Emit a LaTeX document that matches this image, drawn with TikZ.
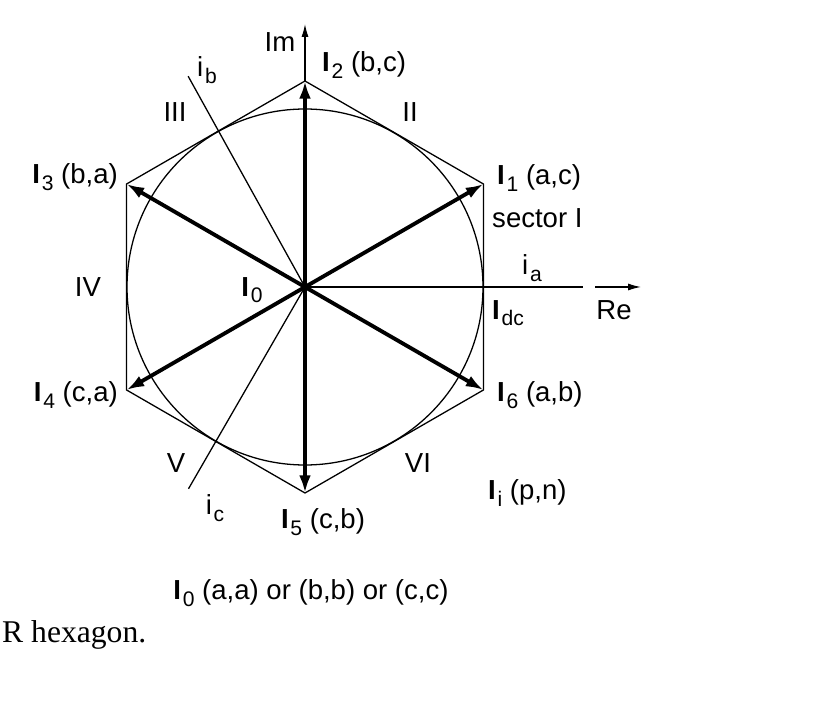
\documentclass[tikz,border=0pt]{standalone}
\usepackage{fontspec}
\setmainfont{Liberation Sans}
\newfontfamily\capfont{Liberation Serif}
\usetikzlibrary{arrows.meta}
\tikzset{
  vec/.style={line width=3.3pt, -{Latex[length=15pt,width=10pt]}},
  thinline/.style={line width=1.1pt},
  axisarrow/.style={line width=1.1pt, -{Latex[length=11pt,width=6pt]}},
  lbl/.style={font=\fontsize{23.5}{28}\selectfont, inner sep=0pt},
}
\newcommand\lowidx[1]{\hspace{1.5pt}\raisebox{-0.45ex}{\fontsize{18}{20}\selectfont #1}}
\newcommand\cur[1]{\textbf{I}\lowidx{#1}}
\begin{document}
\begin{tikzpicture}[x=0.03cm,y=0.03cm]
  \useasboundingbox (-305,-418) rectangle (531,287);
  \coordinate (O) at (0,0);
  % Hexagon and circle
  \foreach \k in {1,...,6} {
    \coordinate (v\k) at ({60*\k-30}:206);
  }
  \draw[thinline] (v1) -- (v2) -- (v3) -- (v4) -- (v5) -- (v6) -- cycle;
  \draw[thinline] (O) circle (178);
  % Phase lines
  \coordinate (ib) at (119:241);
  \coordinate (ic) at (240:233);
  \draw[thinline] (O) -- (ib);
  \draw[thinline] (O) -- (ic);
  % Axes
  \coordinate (reEnd) at (278,0);
  \coordinate (reA) at (290,0);
  \coordinate (reB) at (336,0);
  \coordinate (imTip) at (0,263);
  \draw[thinline] (O) -- (reEnd);
  \draw[axisarrow] (reA) -- (reB);
  \draw[axisarrow] (v2) -- (imTip);
  % Vectors
  \foreach \k in {1,...,6} {
    \draw[vec] (O) -- (v\k);
  }
  % Labels
  \node[lbl] (im) at (-25,245) {Im};
  \node[lbl, anchor=west] (l2) at (17,222) {\cur{2} (b,c)};
  \node[lbl] (lib) at (-98,217) {i\lowidx{b}};
  \node[lbl] (s3) at (-130,175) {III};
  \node[lbl] (s2) at (105,175) {II};
  \node[lbl, anchor=east] (l3) at (-187,110) {\cur{3} (b,a)};
  \node[lbl, anchor=west] (l1) at (192,109) {\cur{1} (a,c)};
  \node[lbl, anchor=west] (s1) at (187,69) {sector I};
  \node[lbl] (lia) at (227,19) {i\lowidx{a}};
  \node[lbl] (s4) at (-217,0) {IV};
  \node[lbl] (l0) at (-53,-3) {\cur{0}};
  \node[lbl, anchor=west] (ldc) at (187,-26) {\cur{dc}};
  \node[lbl] (re) at (309,-23) {Re};
  \node[lbl, anchor=east] (l4) at (-187,-108) {\cur{4} (c,a)};
  \node[lbl, anchor=west] (l6) at (192,-108) {\cur{6} (a,b)};
  \node[lbl] (s5) at (-129,-176) {V};
  \node[lbl] (s6) at (113,-176) {VI};
  \node[lbl, anchor=west] (li) at (183,-206) {\cur{i} (p,n)};
  \node[lbl] (lic) at (-90,-221) {i\lowidx{c}};
  \node[lbl] (l5) at (18,-235) {\cur{5} (c,b)};
  \node[lbl] (zero) at (6,-306) {\cur{0} (a,a) or (b,b) or (c,c)};
  \node[lbl, anchor=west, font=\capfont\fontsize{27}{32}\selectfont] (cap) at (-303,-348) {R hexagon.};
\end{tikzpicture}
\end{document}
